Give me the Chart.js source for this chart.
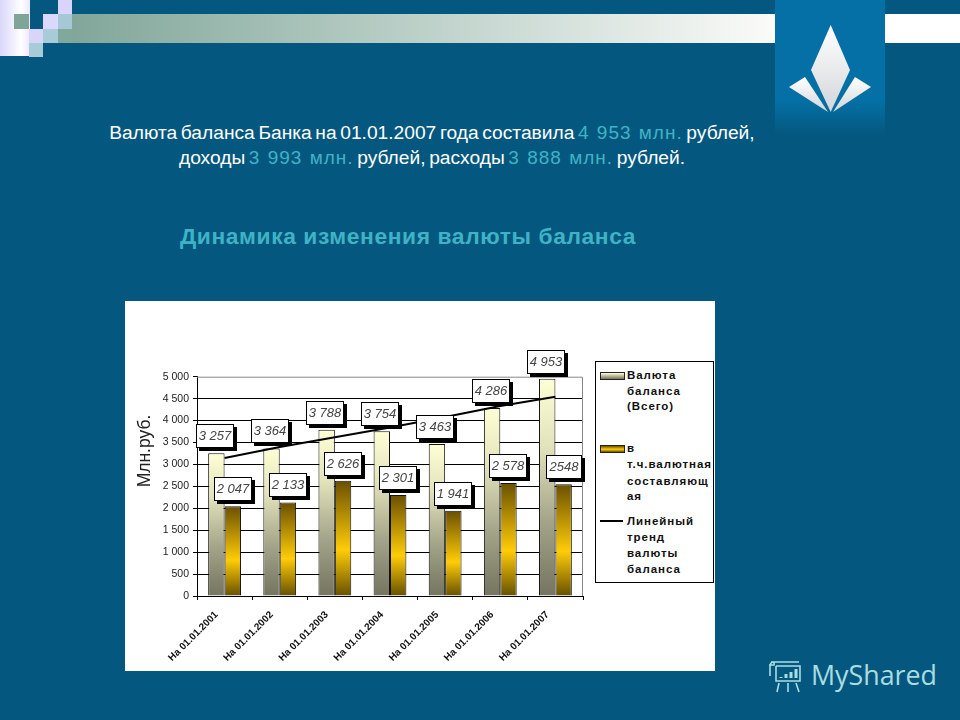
<!DOCTYPE html>
<html lang="ru"><head><meta charset="utf-8">
<script src="https://cdn.jsdelivr.net/npm/chart.js@4"></script>
<style>
html,body{margin:0;padding:0;width:960px;height:720px;overflow:hidden;background:#04587F;font-family:"Liberation Sans",Arial,sans-serif}
.a{position:absolute}
#bar{left:58px;top:14px;width:717px;height:29px;background:linear-gradient(90deg,#7FA598 0%,#A9C3B9 35%,#CFDDD7 65%,#FBFBF9 100%)}
#barR{left:885px;top:14px;width:75px;height:29px;background:#fff}
#logo{left:775px;top:0;width:110px;height:134px;background:linear-gradient(180deg,#0470A6 0%,#0470A6 75%,#04587F 100%)}
.line{left:0;width:864px;text-align:center;color:#fff;font-size:19.2px;white-space:nowrap;word-spacing:-1.7px}
.line b{font-weight:normal;color:#3FB3C6;font-size:19px;letter-spacing:1px;word-spacing:1px}
#head{left:0;width:816px;top:223px;text-align:center;color:#3FB3C6;font-weight:bold;font-size:22.8px;letter-spacing:.6px;white-space:nowrap}
#panel{left:125px;top:301px;width:590px;height:370px;background:#fff}
#legend{left:595px;top:361px;width:117px;height:220px;border:1px solid #000;background:#fff}
#legend div.t{position:absolute;left:31px;font:bold 11.5px/16px "Liberation Sans",Arial,sans-serif;letter-spacing:.95px;color:#111;white-space:nowrap}
#legend i{position:absolute;left:4px;width:23px;height:6px;border:1px solid #222;display:block}
#wm{left:811px;top:654px;color:#A9DDE2;font:26.8px/42px "Open Sans",sans-serif;white-space:nowrap}
</style></head><body>
<div class="a" id="bar"></div><div class="a" id="barR"></div>
<svg class="a" style="left:0;top:0" width="80" height="60">
<defs><linearGradient id="lv" x1="0" x2="1"><stop offset="0" stop-color="#D9D6FA"/><stop offset=".7" stop-color="#FFFFFF"/><stop offset="1" stop-color="#ECE8FF"/></linearGradient></defs>
<rect width="30" height="56" fill="url(#lv)"/><rect x="14" y="14" width="15" height="15" fill="#7FA598"/>
<rect x="58" width="14" height="14" fill="#D8D4FA"/><rect x="43" y="14" width="15" height="15" fill="#DCD8FC"/>
<rect x="58" y="14" width="14" height="15" fill="#A6C8D6"/><rect x="43" y="29" width="15" height="14" fill="#A8CBD8"/>
<rect x="29" y="29" width="14" height="14" fill="#D8D4FA"/><rect x="29" y="43" width="14" height="14" fill="#A8CBD8"/>
<rect x="58" y="29" width="14" height="14" fill="#82A89B"/>
</svg>
<div class="a" id="logo"></div>
<svg class="a" style="left:775px;top:0" width="110" height="134">
<defs><linearGradient id="sv" x1="0" y1="0" x2="0" y2="1"><stop offset="0" stop-color="#FFFFFF"/><stop offset="1" stop-color="#D2D6DA"/></linearGradient></defs>
<g fill="url(#sv)"><polygon points="55.7,25 75,70 55.7,112 36,70"/><polygon points="14,87 30,77 53,112"/><polygon points="96,87 80,77 58,112"/></g></svg>
<div class="a line" style="top:122px">Валюта баланса Банка на 01.01.2007 года составила <b>4 953 млн.</b> рублей,</div>
<div class="a line" style="top:147px">доходы <b>3 993 млн.</b> рублей, расходы <b>3 888 млн.</b> рублей.</div>
<div class="a" id="head">Динамика изменения валюты баланса</div>
<div class="a" id="panel"><canvas id="c" width="590" height="370" style="width:590px;height:370px;display:block"></canvas></div>
<div class="a" id="legend"></div>
<svg class="a" style="left:767px;top:656px" width="40" height="40" fill="none" stroke="#A9DDE2" stroke-width="1.6">
<path d="M4 6h28M7 6v3H2M7 6c-3 0-4 2-4 4v10M9 10v15h24V10H9M12 27l-2 9M21 27v9M29 27l3 9"/>
<path d="M14 22v-1M19 22v-4M24 22v-6M29 22v-9" stroke-width="3"/></svg>
<div class="a" id="wm">MyShared</div>
<script>
const categories=["На 01.01.2001","На 01.01.2002","На 01.01.2003","На 01.01.2004","На 01.01.2005","На 01.01.2006","На 01.01.2007"];
const balanceValues=[3257,3364,3788,3754,3463,4286,4953];
const foreignValues=[2047,2133,2626,2301,1941,2578,2548];
const trendValues=[3147,3397,3620,3840,4080,4330,4545];
const balanceLabels=["3 257","3 364","3 788","3 754","3 463","4 286","4 953"];
const foreignLabels=["2 047","2 133","2 626","2 301","1 941","2 578","2548"];
const yTickLabels=["0","500","1 000","1 500","2 000","2 500","3 000","3 500","4 000","4 500","5 000"];
const axisTitle="Млн.руб.";
const legendNames=[["Валюта","баланса","(Всего)"],["в","т.ч.валютная","составляющ","ая"],["Линейный","тренд","валюты","баланса"]];

function barGrad(stops){
  return function(ctx){
    const ch=ctx.chart;
    if(!ch.chartArea||ctx.raw==null) return stops[0][1];
    const y=ch.scales.y, g=ch.ctx.createLinearGradient(0,y.getPixelForValue(ctx.raw),0,y.getPixelForValue(0));
    stops.forEach(s=>g.addColorStop(s[0],s[1]));
    return g;
  };
}
const stops1=[[0,"#FFFFD6"],[.3,"#E4E4BC"],[.65,"#A5A58A"],[1,"#747460"]];
const stops2=[[0,"#6A5000"],[.6,"#FFCC08"],[1,"#665000"]];
const labelPlugin={id:"boxes",
  beforeDatasetsDraw(ch){
    const a=ch.chartArea,c=ch.ctx;c.save();c.strokeStyle="#888";c.lineWidth=1;
    c.beginPath();c.moveTo(a.left,a.top+.5);c.lineTo(a.right-.5,a.top+.5);c.lineTo(a.right-.5,a.bottom);c.stroke();c.restore();
  },
  afterDatasetsDraw(ch){
    const c=ch.ctx;
    [[0,balanceLabels,-1.5],[1,foreignLabels,0]].forEach(([ds,txt,dx])=>{
      ch.getDatasetMeta(ds).data.forEach((b,i)=>{
        const w=txt[i].length<5?36:38,h=24,x=Math.round(b.x+dx-w/2),y=Math.round(b.y-17-h/2);
        c.save();
        c.fillStyle="#000";c.fillRect(x+3,y+3,w,h);
        c.fillStyle="#fff";c.fillRect(x,y,w,h);
        c.strokeStyle="#000";c.lineWidth=1;c.strokeRect(x+.5,y+.5,w-1,h-1);
        c.fillStyle="#444";c.font='italic 13px "Liberation Sans",Arial,sans-serif';
        c.textAlign="center";c.textBaseline="middle";
        c.fillText(txt[i],x+w/2,y+h/2+.5);
        c.restore();
      });
    });
    // axis title sits above the centre of the value axis in the source
    c.save();c.translate(20,150);c.rotate(-Math.PI/2);
    c.fillStyle="#222";c.font='17.5px "Liberation Sans",Arial,sans-serif';c.textAlign="center";c.textBaseline="middle";
    c.fillText(axisTitle,0,0);c.restore();
  }};
new Chart(document.getElementById("c"),{
  type:"bar",
  data:{labels:categories,datasets:[
    {type:"bar",label:legendNames[0].join(" "),data:balanceValues,order:2,backgroundColor:barGrad(stops1),borderColor:"#111",borderWidth:1},
    {type:"bar",label:legendNames[1].join(" "),data:foreignValues,order:2,backgroundColor:barGrad(stops2),borderColor:"#111",borderWidth:1},
    {type:"line",label:legendNames[2].join(" "),data:trendValues,order:1,borderColor:"#000",borderWidth:2,pointRadius:0,tension:0,fill:false}
  ]},
  options:{responsive:false,animation:false,devicePixelRatio:1,
    datasets:{bar:{categoryPercentage:.595,barPercentage:1}},
    layout:{padding:{top:75.7,right:132,bottom:0,left:0}},
    plugins:{legend:{display:false},title:{display:false},tooltip:{enabled:false}},
    scales:{
      x:{offset:true,
        afterFit(s){s.height=75;},
        grid:{drawOnChartArea:false,drawTicks:true,tickLength:4,color:"#000",offset:true},
        border:{color:"#000",width:1},
        ticks:{autoSkip:false,minRotation:45,maxRotation:45,color:"#111",padding:9,labelOffset:-8,font:{family:'"Liberation Sans",Arial,sans-serif',size:10,weight:"bold"}}},
      y:{min:0,max:5000,
        afterFit(s){s.width=72;},
        afterBuildTicks(s){s.ticks=yTickLabels.map((_,i)=>({value:i*500}));},
        grid:{color:ctx=>ctx.tick&&ctx.tick.value===5000?"transparent":"#000",lineWidth:1,tickColor:"#000",tickLength:4},
        border:{color:"#000",width:1},
        ticks:{padding:4,color:"#222",callback:(v,i)=>yTickLabels[i],font:{family:'"Liberation Sans",Arial,sans-serif',size:10.5}}}
    }
  },
  plugins:[labelPlugin]
});
// legend (text wraps over several lines, built from the series names)
const L=document.getElementById("legend");
const tops=[[5,21,36],[78,94,111,126],[151,167,183,199]];
legendNames.forEach((lines,k)=>{
  lines.forEach((t,j)=>{const d=document.createElement("div");d.className="t";d.style.top=tops[k][j]+"px";d.textContent=t;L.appendChild(d);});
  const s=document.createElement("i");
  if(k<2){s.style.top=(k?(78+5):10)+"px";s.style.background=k?"linear-gradient(180deg,#6A5000,#FFCC08 55%,#6A5000)":"linear-gradient(180deg,#FFFFD6,#747460)";}
  else{s.style.top="158px";s.style.height="0";s.style.border="0";s.style.borderTop="2px solid #000";}
  L.appendChild(s);
});
</script>
</body></html>
